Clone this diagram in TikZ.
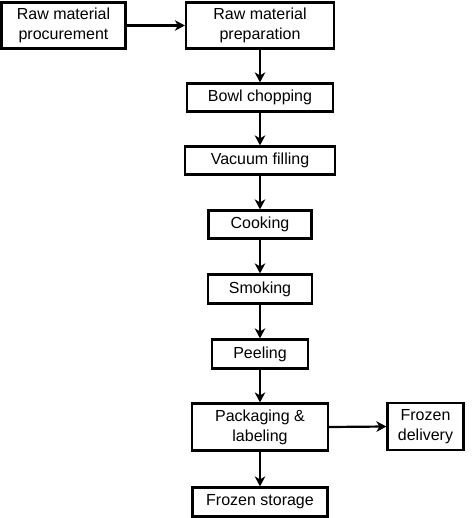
\documentclass[tikz,border=0pt]{standalone}
\usepackage{fontspec}
\setmainfont{Liberation Sans}
\usetikzlibrary{arrows.meta}
\begin{document}
\begin{tikzpicture}[x=1pt,y=1pt,
  stepbox/.style={draw=black, line width=2.2pt, align=center, inner sep=0pt,
    font=\fontsize{16}{20}\selectfont},
  conn/.style={line width=2.2pt, -{Stealth[length=10pt,width=10.5pt,inset=3pt]}}]
\useasboundingbox (0,0) rectangle (474,-518);
\node[stepbox, minimum width=124pt, minimum height=46pt] (proc) at (63.5,-25.5) {Raw material\\procurement};
\node[stepbox, minimum width=148pt, minimum height=46pt] (prep) at (260,-25.5) {Raw material\\preparation};
\node[stepbox, minimum width=146pt, minimum height=28pt] (bowl) at (260,-97.5) {Bowl chopping};
\node[stepbox, minimum width=150pt, minimum height=28pt] (vac) at (260,-160.5) {Vacuum filling};
\node[stepbox, minimum width=103pt, minimum height=28pt] (cook) at (260,-224.5) {Cooking};
\node[stepbox, minimum width=104pt, minimum height=29pt] (smoke) at (260,-289) {Smoking};
\node[stepbox, minimum width=96pt, minimum height=29pt] (peel) at (260,-354) {Peeling};
\node[stepbox, minimum width=136pt, minimum height=47pt] (pack) at (260,-427) {Packaging \&\\labeling};
\node[stepbox, minimum width=76pt, minimum height=47pt] (deliv) at (425.5,-426.5) {Frozen\\delivery};
\node[stepbox, minimum width=135pt, minimum height=29pt] (store) at (260,-502) {Frozen storage};
\draw[conn] (proc.east) -- (prep.west);
\draw[conn] (prep) -- (bowl);
\draw[conn] (bowl) -- (vac);
\draw[conn] (vac) -- (cook);
\draw[conn] (cook) -- (smoke);
\draw[conn] (smoke) -- (peel);
\draw[conn] (peel) -- (pack);
\draw[conn] (pack) -- (store);
\draw[conn] (pack.east) -- (deliv.west);
\end{tikzpicture}
\end{document}
